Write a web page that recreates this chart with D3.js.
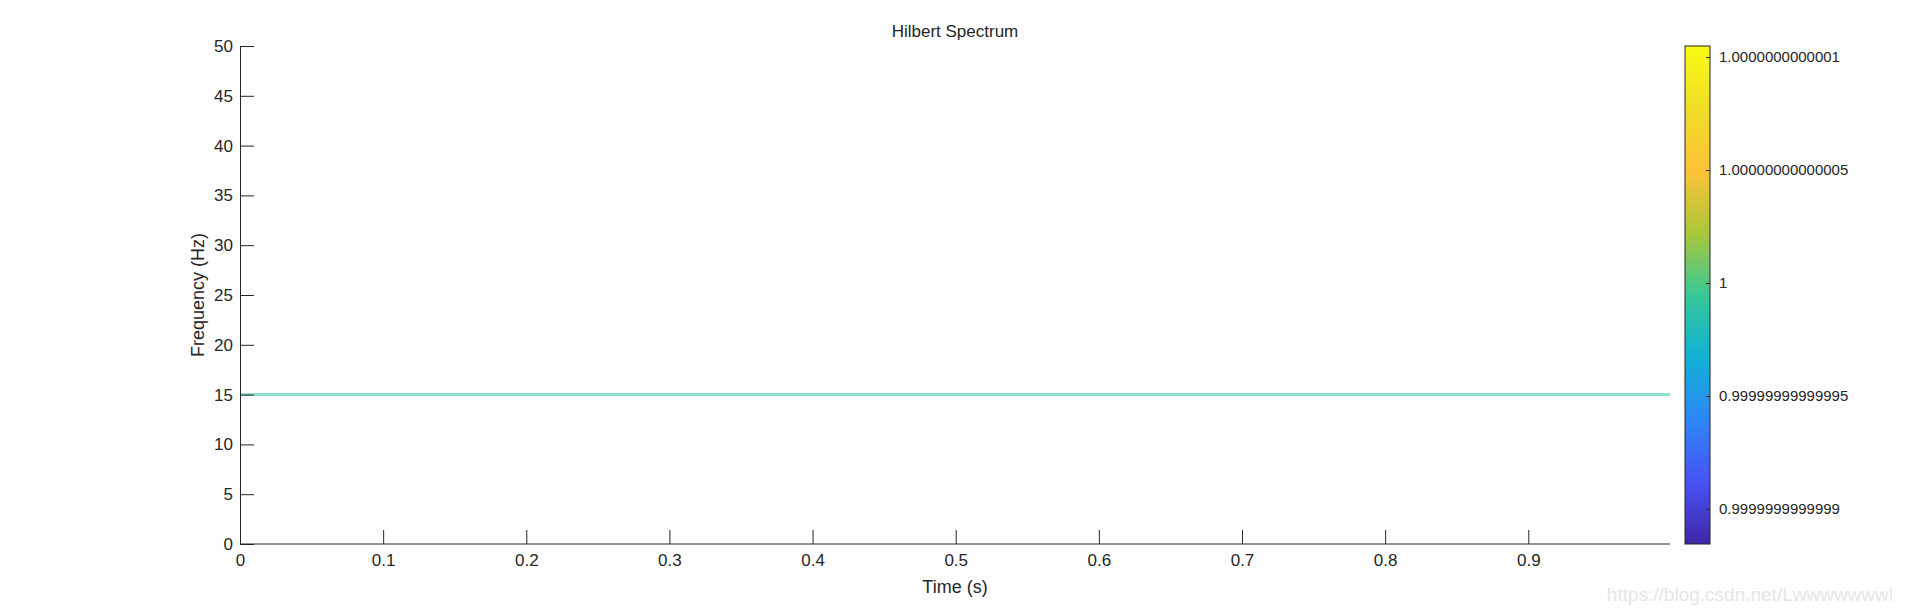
<!DOCTYPE html>
<html><head><meta charset="utf-8">
<script src="https://cdn.jsdelivr.net/npm/d3@7"></script>
<style>body{margin:0;background:#fff}text{font-family:"Liberation Sans",Arial,sans-serif;fill:#262626}</style>
</head><body>
<svg id="c" width="1920" height="614"></svg>
<script>
const timeValues = [0, 0.999];
const freqValues = [15, 15];
const xTicks = [0,0.1,0.2,0.3,0.4,0.5,0.6,0.7,0.8,0.9];
const yTicks = [0,5,10,15,20,25,30,35,40,45,50];
const cbTickOffsets = [-1,-0.5,0,0.5,1];
const cbTickLabels = ["0.9999999999999","0.99999999999995","1","1.00000000000005","1.0000000000001"];
const parula = ["#3e26a8","#4852f4","#2d87f7","#12b1d6","#37c897","#abc739","#fec338","#f0dd26","#f9fb15"];

const svg = d3.select("#c");
const L=240,R=1670,T=46,B=544;
const x = d3.scaleLinear().domain([0,0.999]).range([L,R]);
const y = d3.scaleLinear().domain([0,50]).range([B,T]);

svg.append("path").datum(timeValues.map((t,i)=>[t,freqValues[i]]))
  .attr("d",d3.line().x(d=>x(d[0])).y(d=>y(d[1])))
  .attr("stroke","#8fe0cf").attr("stroke-width",3).attr("fill","none");

const xa = svg.append("g").attr("transform",`translate(0,${B})`)
  .call(d3.axisBottom(x).tickValues(xTicks).tickFormat(d3.format("~g")).tickSizeInner(-14).tickSizeOuter(0).tickPadding(8));
xa.select(".domain").attr("d",`M${L},0H${R}`);
const ya = svg.append("g").attr("transform",`translate(${L},0)`)
  .call(d3.axisLeft(y).tickValues(yTicks).tickSizeInner(-14).tickSizeOuter(0).tickPadding(7));
[xa,ya].forEach(a=>{a.selectAll("text").style("font-size","17px").attr("fill","#262626");a.selectAll("line,path").attr("stroke","#262626");});
xa.selectAll(".tick text").attr("dy","0.85em");

svg.append("text").attr("x",955).attr("y",37).attr("text-anchor","middle").style("font-size","17px").text("Hilbert Spectrum");
svg.append("text").attr("x",955).attr("y",593).attr("text-anchor","middle").style("font-size","18px").text("Time (s)");
svg.append("text").attr("transform",`translate(204,${(T+B)/2}) rotate(-90)`).attr("text-anchor","middle").style("font-size","18px").text("Frequency (Hz)");

// colorbar
const cx=1685,cw=25;
const cy = d3.scaleLinear().domain([-1.155,1.049]).range([B,T]);
const defs=svg.append("defs");
const g=defs.append("linearGradient").attr("id","pg").attr("x1",0).attr("y1",1).attr("x2",0).attr("y2",0);
parula.forEach((c,i)=>g.append("stop").attr("offset",i/(parula.length-1)).attr("stop-color",c));
svg.append("rect").attr("x",cx).attr("y",T).attr("width",cw).attr("height",B-T).attr("fill","url(#pg)").attr("stroke","#262626");
const ca=svg.append("g").attr("transform",`translate(${cx+cw},0)`)
  .call(d3.axisRight(cy).tickValues(cbTickOffsets).tickFormat((d,i)=>cbTickLabels[i]).tickSizeInner(-4).tickSizeOuter(0).tickPadding(9));
ca.select(".domain").remove();
ca.selectAll("line").attr("stroke","#262626");
ca.selectAll("text").style("font-size","15px").attr("fill","#262626");

svg.append("text").attr("x",1893).attr("y",601).attr("text-anchor","end").style("font-size","19px").style("fill","#e6e6e6").text("https://blog.csdn.net/Lwwwwwwwl");
</script></body></html>
